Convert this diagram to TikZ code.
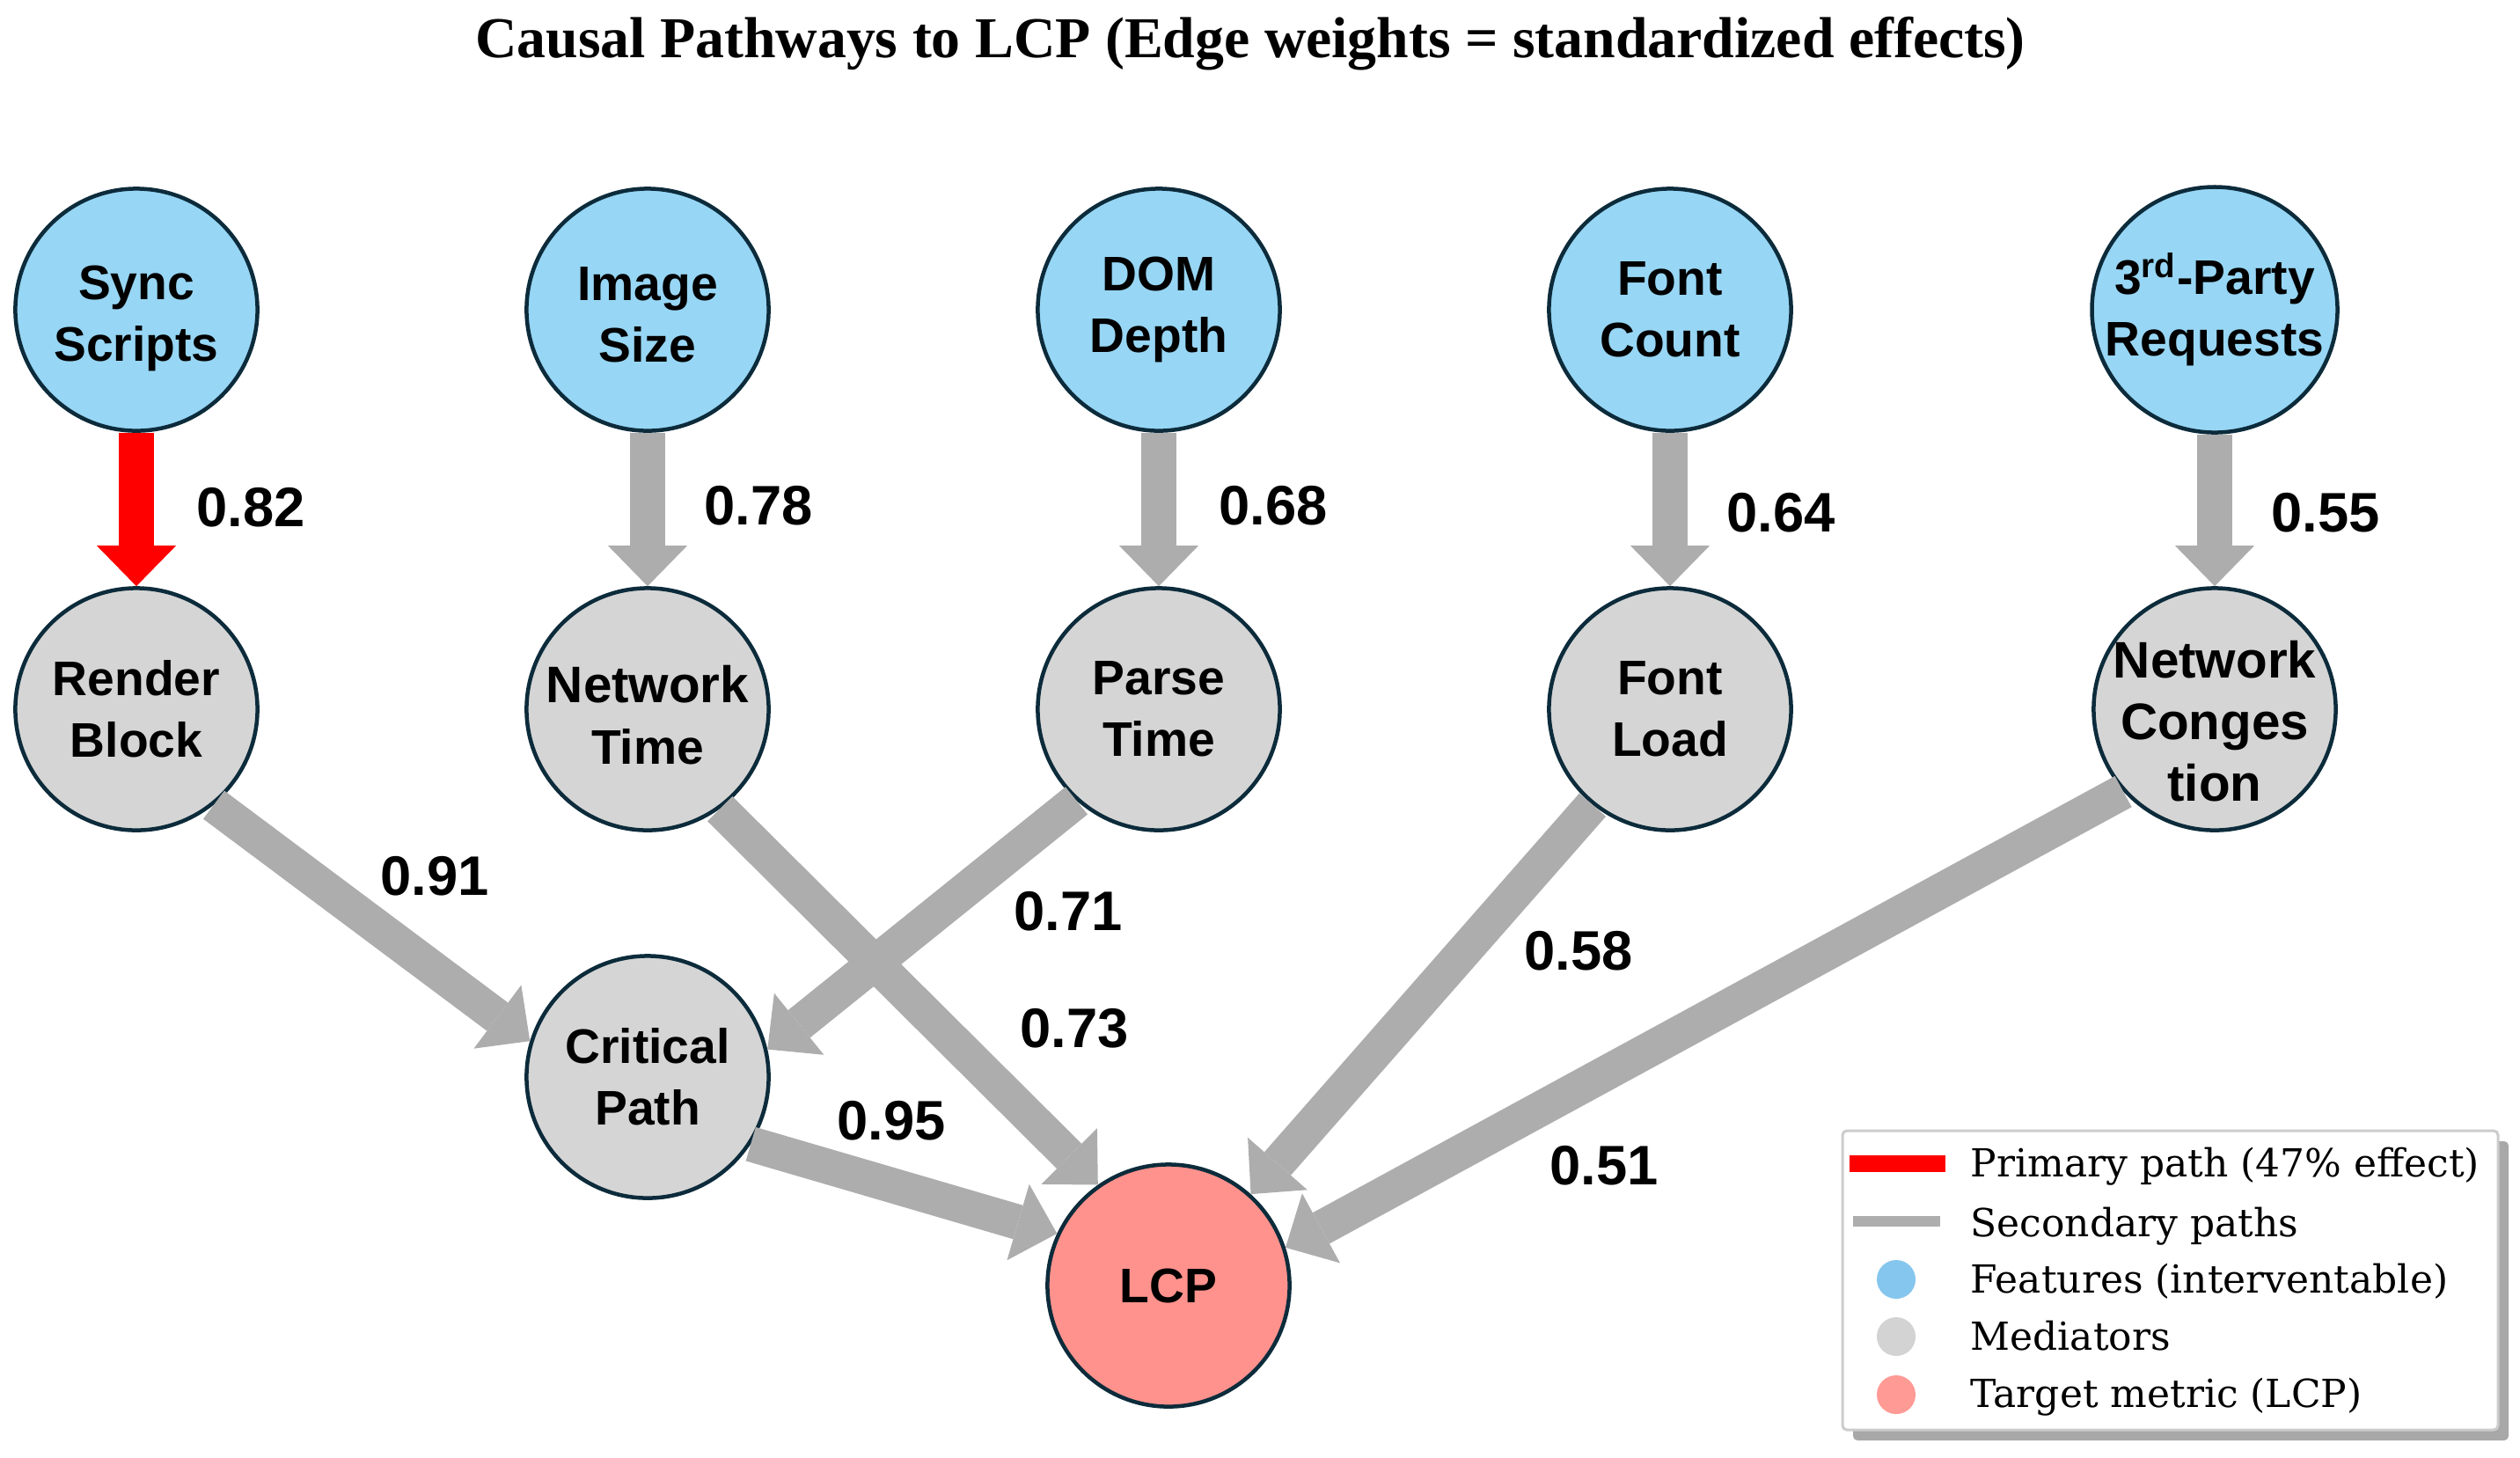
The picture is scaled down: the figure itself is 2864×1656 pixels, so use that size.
\documentclass[tikz,border=0pt]{standalone}
\usepackage{fontspec}
\setmainfont{Liberation Sans}
\newfontfamily\titlefont{Liberation Serif}
\newfontfamily\legfont{DejaVu Serif}
\usetikzlibrary{arrows.meta}
\definecolor{featblue}{HTML}{97D6F4}
\definecolor{medgray}{HTML}{D5D5D5}
\definecolor{lcpred}{HTML}{FF928C}
\definecolor{borderc}{HTML}{0C2B3B}
\definecolor{edgegray}{HTML}{ADADAD}
\definecolor{primred}{HTML}{FF0000}
\definecolor{legblue}{HTML}{85C6EE}
\definecolor{leggray}{HTML}{D3D3D3}
\definecolor{legsalmon}{HTML}{FF9A94}
\definecolor{legborder}{HTML}{CCCCCC}
\definecolor{legshadow}{HTML}{A8A8A8}
\newcommand{\tstrut}[1]{\rule{0pt}{#1}}
\newcommand{\lowtext}[2]{\raisebox{-#1}[0pt][0pt]{\begin{tabular}{@{}c@{}}#2\end{tabular}}}
\begin{document}
\begin{tikzpicture}[x=0.01cm,y=-0.01cm,
  vnode/.style={circle, draw=borderc, line width=0.045cm, minimum size=2.75cm, inner sep=0pt, align=center, font=\bfseries\fontsize{15.7}{20}\selectfont},
  feat/.style={vnode, fill=featblue},
  med/.style={vnode, fill=medgray},
  target/.style={vnode, fill=lcpred},
  edge/.style={line width=0.4cm, draw=edgegray, -{Triangle[width=0.9cm,length=0.46cm,line width=0pt]}},
  primary/.style={edge, draw=primred},
  wlabel/.style={font=\bfseries\fontsize{18}{22}\selectfont, inner sep=0pt},
  legtext/.style={font=\legfont\fontsize{12.5}{15}\selectfont, anchor=base west, inner sep=0pt},
]
\useasboundingbox (0,0) rectangle (2864,1656);

\node[anchor=base, font=\titlefont\bfseries\fontsize{18.7}{22}\selectfont] (title) at (1421,65) {Causal Pathways to LCP (Edge weights = standardized effects)};

% features
\node[feat] (ss) at (155,352) {\tstrut{0.59cm}Sync\\Scripts};
\node[feat] (is) at (736,352) {\tstrut{0.5cm}Image\\Size};
\node[feat] (dd) at (1317,352) {DOM\\Depth};
\node[feat] (fc) at (1898,352) {Font\\Count};
\node[feat] (tp) at (2517,352) {3\textsuperscript{rd}-Party\\Requests};
% mediators
\node[med] (rb) at (155,806) {Render\\Block};
\node[med] (nt) at (736,806) {\tstrut{0.56cm}\fontsize{16.6}{20}\selectfont Network\\Time};
\node[med] (pt) at (1317,806) {Parse\\Time};
\node[med] (fl) at (1898,806) {Font\\Load};
\node[med] (nc) at (2517,806) {\fontsize{16.6}{20}\selectfont\lowtext{0.355cm}{Network\\Conges\\tion}};
\node[med] (cp) at (736,1224) {Critical\\Path};
% target
\node[target] (lcp) at (1328,1461) {LCP};

% edges
\draw[primary] (ss.south) -- (rb.north);
\draw[edge] (is.south) -- (nt.north);
\draw[edge] (dd.south) -- (pt.north);
\draw[edge] (fc.south) -- (fl.north);
\draw[edge] (tp.south) -- (nc.north);
\draw[edge] (rb.-51.7) -- (cp.163.6);
\draw[edge] (nt.-54.6) -- (lcp.125.8);
\draw[edge] (pt.-132.7) -- (cp.13);
\draw[edge] (cp.-33.2) -- (lcp.155.6);
\draw[edge] (fl.-129) -- (lcp.48.6);
\draw[edge] (nc.-138.7) -- (lcp.18);

% weights
\node[wlabel] (w1) at (285,577) {0.82};
\node[wlabel] (w2) at (862,575) {0.78};
\node[wlabel] (w3) at (1447,575) {0.68};
\node[wlabel] (w4) at (2024,583) {0.64};
\node[wlabel] (w5) at (2643,583) {0.55};
\node[wlabel] (w6) at (494,996) {0.91};
\node[wlabel] (w7) at (1214,1036) {0.71};
\node[wlabel] (w8) at (1221,1169) {0.73};
\node[wlabel] (w9) at (1794,1081) {0.58};
\node[wlabel] (w10) at (1013,1274) {0.95};
\node[wlabel] (w11) at (1823,1325) {0.51};

% legend
\fill[legshadow, rounded corners=0.05cm] (2106,1297) rectangle (2851,1637);
\draw[draw=legborder, fill=white, rounded corners=0.05cm, line width=0.03cm] (2094,1285) rectangle (2839,1625);
\draw[primred, line width=0.19cm] (2102,1322) -- (2211,1322);
\draw[edgegray, line width=0.12cm] (2106,1388) -- (2205,1388);
\fill[legblue] (2155,1454) circle[radius=0.22cm];
\fill[leggray] (2155,1519) circle[radius=0.22cm];
\fill[legsalmon] (2155,1585) circle[radius=0.22cm];
\node[legtext] (lg1) at (2239,1337) {Primary path (47\% effect)};
\node[legtext] (lg2) at (2239,1405) {Secondary paths};
\node[legtext] (lg3) at (2239,1469) {Features (interventable)};
\node[legtext] (lg4) at (2239,1534) {Mediators};
\node[legtext] (lg5) at (2239,1599) {Target metric (LCP)};
\end{tikzpicture}
\end{document}
